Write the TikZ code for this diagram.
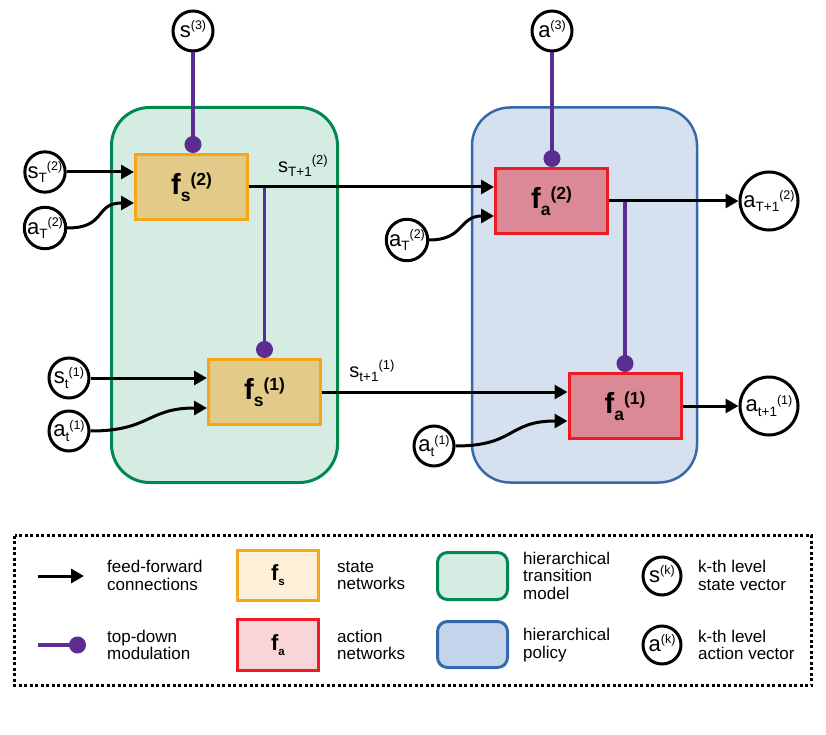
\documentclass[tikz,border=0pt]{standalone}
\usepackage{fontspec}
\setmainfont{Liberation Sans}
\usetikzlibrary{arrows.meta,calc}
\definecolor{grnfill}{RGB}{213,236,226}
\definecolor{grnline}{RGB}{0,137,78}
\definecolor{bluefill}{RGB}{214,225,239}
\definecolor{blueline}{RGB}{55,105,168}
\definecolor{bluefillL}{RGB}{196,212,234}
\definecolor{orng}{RGB}{247,165,25}
\definecolor{orngfill}{RGB}{226,203,136}
\definecolor{orngfillL}{RGB}{253,239,216}
\definecolor{redline}{RGB}{236,28,36}
\definecolor{redfill}{RGB}{219,138,149}
\definecolor{redfillL}{RGB}{250,213,216}
\definecolor{purp}{RGB}{92,45,145}
% circle label: main, sub, sup
\newcommand\cv[3]{{\fontsize{22}{22}\selectfont #1}\raisebox{-4.5pt}{\fontsize{13.5}{13.5}\selectfont #2}\raisebox{7.5pt}{\fontsize{12.5}{12.5}\selectfont #3}}
% edge label
\newcommand\ev[3]{{\fontsize{20}{20}\selectfont #1}\raisebox{-4.5pt}{\fontsize{13.5}{13.5}\selectfont #2}\raisebox{7.5pt}{\fontsize{13}{13}\selectfont #3}}
% box label
\newcommand\bv[2]{{\fontsize{29}{29}\selectfont\bfseries f}\raisebox{-7pt}{\fontsize{17.5}{17.5}\selectfont\bfseries #1}\raisebox{9pt}{\fontsize{17.5}{17.5}\selectfont\bfseries #2}}
% legend box label
\newcommand\lv[1]{{\fontsize{22}{22}\selectfont\bfseries f}\raisebox{-5pt}{\fontsize{11.5}{11.5}\selectfont\bfseries #1}}
\begin{document}
\begin{tikzpicture}[x=1pt,y=-1pt,
  circ/.style={circle,draw=black,line width=3pt,fill=white,minimum size=40pt,inner sep=0pt},
  bigcirc/.style={circ,minimum size=58pt},
  fsbox/.style={draw=orng,fill=orngfill,line width=3pt,minimum width=112pt,minimum height=65pt,inner sep=0pt},
  fabox/.style={draw=redline,fill=redfill,line width=3pt,minimum width=112pt,minimum height=65pt,inner sep=0pt},
  ff/.style={line width=3pt,draw=black,-{Triangle[length=13pt,width=14pt]}},
  td/.style={line width=3.5pt,draw=purp,-{Circle[length=17pt]}},
  lgtext/.style={anchor=west,align=left,inner sep=0pt,font=\fontsize{17}{17.5}\selectfont},
]
\useasboundingbox (0,0) rectangle (826,735);
% group backgrounds
\draw[draw=grnline,fill=grnfill,line width=3pt,rounded corners=38pt] (111.5,107.5) rectangle (337.5,482.5);
\draw[draw=blueline,fill=bluefill,line width=2.5pt,rounded corners=38pt] (472,107.5) rectangle (697,482.5);

% nodes
\node[circ] (s3) at (193,31) {\cv{s}{}{(3)}};
\node[circ] (a3) at (552,31) {\cv{a}{}{(3)}};
\node[circ] (sT2) at (45,172) {\cv{s}{T}{(2)}};
\node[circ] (aT2L) at (45,228) {\cv{a}{T}{(2)}};
\node[circ] (st1) at (69,378) {\cv{s}{t}{(1)}};
\node[circ] (at1L) at (69,431) {\cv{a}{t}{(1)}};
\node[circ] (aT2M) at (407,240) {\cv{a}{T}{(2)}};
\node[circ] (at1M) at (434,446) {\cv{a}{t}{(1)}};
\node[bigcirc] (aT12) at (769,201) {\cv{a}{T+1}{(2)}};
\node[bigcirc] (at11) at (769,406) {\cv{a}{t+1}{(1)}};

\node[fsbox] (fs2) at (191.5,187) {\bv{s}{(2)}};
\node[fsbox] (fs1) at (264.5,392) {\bv{s}{(1)}};
\node[fabox] (fa2) at (551.5,201) {\bv{a}{(2)}};
\node[fabox] (fa1) at (625,406) {\bv{a}{(1)}};

\node[inner sep=0pt] (lab2) at (303,166) {\ev{s}{T+1}{(2)}};
\node[inner sep=0pt] (lab1) at (372,371) {\ev{s}{t+1}{(1)}};

% top-down modulation
\draw[td] (s3) -- (s3 |- fs2.north);
\draw[td] (a3) -- (a3 |- fa2.north);
\draw[td] (fs1.north |- fs2.east) -- (fs1.north);
\draw[td] (fa1.north |- fa2.east) -- (fa1.north);

% feed-forward
\draw[ff] (sT2) -- (sT2 -| fs2.west);
\draw[ff] (aT2L.east) .. controls +(40,0) and +(-40,0) .. ([yshift=-16pt]fs2.west);
\draw[ff] (fs2.east) -- ([yshift=14pt]fa2.west);
\draw[ff] (aT2M.east) .. controls +(35,0) and +(-35,0) .. ([yshift=-15pt]fa2.west);
\draw[ff] (fa2.east) -- (aT12);
\draw[ff] (st1) -- (st1 -| fs1.west);
\draw[ff] (at1L.east) .. controls +(60,0) and +(-60,0) .. ([yshift=-16pt]fs1.west);
\draw[ff] (fs1.east) -- ([yshift=14pt]fa1.west);
\draw[ff] (at1M.east) .. controls +(60,0) and +(-60,0) .. ([yshift=-15pt]fa1.west);
\draw[ff] (fa1.east) -- (at11);

% legend
\draw[line width=3pt,dash pattern=on 3pt off 2.5pt] (14.5,535.5) rectangle (811.5,685.5);
\coordinate (lffa) at (38,576);
\coordinate (lffb) at (84,576);
\draw[ff] (lffa) -- (lffb);
\coordinate (ltda) at (38,645);
\coordinate (ltdb) at (86,645);
\draw[td] (ltda) -- (ltdb);
\node[lgtext] (lt1) at (107,575.5) {feed-forward\\connections};
\node[lgtext] (lt2) at (107,645) {top-down\\modulation};
\node[draw=orng,fill=orngfillL,line width=3pt,minimum width=81pt,minimum height=50pt,inner sep=0pt] (lfs) at (278,575.5) {\lv{s}};
\node[draw=redline,fill=redfillL,line width=3pt,minimum width=81pt,minimum height=51pt,inner sep=0pt] (lfa) at (278,645) {\lv{a}};
\node[lgtext] (lt3) at (337,575.5) {state\\networks};
\node[lgtext] (lt4) at (337,645) {action\\networks};
\node[draw=grnline,fill=grnfill,line width=3pt,rounded corners=10pt,minimum width=70pt,minimum height=47pt] (lgr) at (472.5,576) {};
\node[draw=blueline,fill=bluefillL,line width=3pt,rounded corners=10pt,minimum width=70pt,minimum height=46pt] (lbl) at (472.5,644.5) {};
\node[lgtext] (lt5) at (523,575.5) {hierarchical\\transition\\model};
\node[lgtext] (lt6) at (523,645) {hierarchical\\policy};
\node[circ,minimum size=38pt] (lsk) at (662,576) {\cv{s}{}{(k)}};
\node[circ,minimum size=38pt] (lak) at (662,645) {\cv{a}{}{(k)}};
\node[lgtext] (lt7) at (698,575.5) {k-th level\\state vector};
\node[lgtext] (lt8) at (698,645) {k-th level\\action vector};
\end{tikzpicture}
\end{document}
